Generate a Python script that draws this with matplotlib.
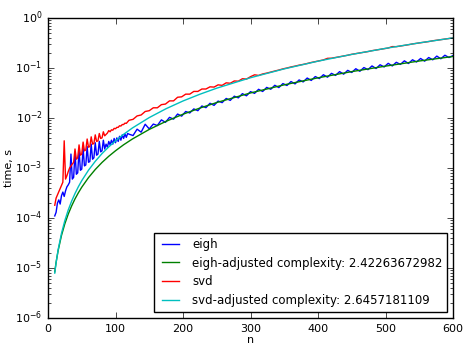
import matplotlib
matplotlib.use('Agg')
import matplotlib.pyplot as plt
import numpy as np

# timings: every 2 up to n=118, then every 6
n_meas = np.r_[np.arange(10, 119, 2), np.arange(120, 601, 6)]

eigh_time = [
    1.1e-4, 1.3e-4, 2.0e-4, 2.3e-4, 1.9e-4, 2.8e-4, 3.3e-4, 2.7e-4, 3.5e-4, 4.2e-4,
    4.6e-4, 5.2e-4, 1.9e-3, 6.0e-4, 6.5e-4, 2.1e-3, 7.5e-4, 8.0e-4, 2.3e-3, 9.0e-4,
    9.5e-4, 2.5e-3, 1.1e-3, 1.15e-3, 2.7e-3, 1.3e-3, 1.35e-3, 3.0e-3, 1.5e-3, 1.6e-3,
    3.2e-3, 1.8e-3, 1.9e-3, 3.4e-3, 2.1e-3, 2.2e-3, 3.6e-3, 2.4e-3, 3.0e-3, 2.6e-3,
    3.4e-3, 2.9e-3, 3.6e-3, 3.0e-3, 3.9e-3, 3.2e-3, 4.0e-3, 3.4e-3, 4.3e-3, 3.6e-3,
    4.6e-3, 3.9e-3, 4.8e-3, 4.1e-3, 4.9e-3,
    4.75e-3, 4.46e-3, 5.98e-3, 5.21e-3, 7.5e-3, 6.05e-3, 7.56e-3, 7.07e-3, 9.18e-3, 8.18e-3,
    1.03e-2, 9.49e-3, 1.20e-2, 1.09e-2, 1.35e-2, 1.26e-2, 1.52e-2, 1.40e-2, 1.74e-2, 1.61e-2,
    1.97e-2, 1.79e-2, 2.18e-2, 2.03e-2, 2.46e-2, 2.25e-2, 2.73e-2, 2.53e-2, 3.07e-2, 2.78e-2,
    3.37e-2, 3.11e-2, 3.75e-2, 3.39e-2, 4.09e-2, 3.76e-2, 4.51e-2, 4.06e-2, 4.88e-2, 4.47e-2,
    5.36e-2, 4.81e-2, 5.77e-2, 5.27e-2, 6.30e-2, 5.64e-2, 6.74e-2, 6.15e-2, 7.33e-2, 6.55e-2,
    7.81e-2, 7.11e-2, 8.46e-2, 7.53e-2, 8.97e-2, 8.14e-2, 9.67e-2, 8.60e-2, 0.102, 9.27e-2,
    0.110, 9.76e-2, 0.116, 0.105, 0.124, 0.110, 0.130, 0.118, 0.139, 0.123,
    0.146, 0.132, 0.155, 0.137, 0.162, 0.146, 0.173, 0.153, 0.180, 0.162,
    0.177,
]

svd_time = [
    1.8e-4, 2.5e-4, 2.9e-4, 3.4e-4, 3.9e-4, 4.5e-4, 5.2e-4, 3.5e-3, 6.0e-4, 7.0e-4,
    8.5e-4, 1.0e-3, 1.1e-3, 1.2e-3, 1.3e-3, 2.4e-3, 1.5e-3, 1.6e-3, 2.9e-3, 1.8e-3,
    1.9e-3, 3.3e-3, 2.2e-3, 2.3e-3, 3.8e-3, 2.6e-3, 2.7e-3, 4.2e-3, 3.0e-3, 3.1e-3,
    4.6e-3, 3.4e-3, 3.5e-3, 4.9e-3, 3.9e-3, 4.0e-3, 5.3e-3, 4.4e-3, 4.7e-3, 5.0e-3,
    5.6e-3, 5.3e-3, 5.8e-3, 5.7e-3, 6.2e-3, 6.1e-3, 6.5e-3, 6.5e-3, 7.0e-3, 6.9e-3,
    7.4e-3, 7.4e-3, 7.9e-3, 7.8e-3, 8.4e-3,
    9.0e-3, 9.4e-3, 1.1e-2, 1.15e-2, 1.35e-2, 1.4e-2, 1.6e-2, 1.6e-2, 1.85e-2, 1.9e-2,
    2.2e-2, 2.2e-2, 2.6e-2, 2.65e-2, 3.0e-2, 3.0e-2, 3.4e-2, 3.4e-2, 3.8e-2, 3.8e-2,
    4.2e-2, 4.15e-2, 4.6e-2, 4.5e-2, 5.05e-2, 4.95e-2, 5.5e-2, 5.45e-2, 6.1e-2, 6.0e-2,
    6.7e-2, 7.3e-2, 7.1e-2, 7.6e-2, 7.9e-2, 8.3e-2, 8.7e-2, 9.1e-2, 9.6e-2, 0.100,
    0.105, 0.109, 0.114, 0.118, 0.123, 0.129, 0.134, 0.139, 0.145, 0.156,
    0.157, 0.162, 0.168, 0.174, 0.180, 0.188, 0.194, 0.200, 0.207, 0.213,
    0.222, 0.229, 0.236, 0.243, 0.251, 0.268, 0.267, 0.275, 0.283, 0.292,
    0.303, 0.311, 0.320, 0.329, 0.338, 0.350, 0.359, 0.368, 0.378, 0.389,
    0.401,
]

# fitted curves, sampled
n_fit = [10, 12, 15, 20, 25, 30, 35, 40, 45, 50, 60, 70, 80, 90, 100, 112, 125,
         150, 175, 200, 225, 250, 300, 350, 400, 450, 500, 550, 600]
eigh_fit = [8.37e-6, 1.30e-5, 2.23e-5, 4.49e-5, 7.70e-5, 1.20e-4, 1.74e-4, 2.41e-4,
            3.20e-4, 4.13e-4, 6.42e-4, 9.33e-4, 1.29e-3, 1.716e-3, 2.21e-3, 2.914e-3,
            3.80e-3, 5.91e-3, 8.59e-3, 1.19e-2, 1.579e-2, 2.04e-2, 3.17e-2, 4.61e-2,
            6.36e-2, 8.47e-2, 0.109, 0.138, 0.170]
svd_fit = [7.90e-6, 1.28e-5, 2.31e-5, 4.94e-5, 8.92e-5, 1.45e-4, 2.174e-4, 3.09e-4,
           4.225e-4, 5.58e-4, 9.04e-4, 1.36e-3, 1.94e-3, 2.644e-3, 3.49e-3, 4.717e-3,
           6.31e-3, 1.02e-2, 1.536e-2, 2.19e-2, 2.987e-2, 3.95e-2, 6.39e-2, 9.61e-2,
           0.137, 0.187, 0.247, 0.318, 0.400]

eigh_exp = '2.42263672982'
svd_exp = '2.6457181109'

plt.style.use('classic')
plt.rcParams['figure.facecolor'] = 'white'
plt.rcParams['savefig.facecolor'] = 'white'
plt.rcParams['mathtext.fontset'] = 'dejavusans'
plt.rcParams['font.family'] = 'DejaVu Sans'

fig = plt.figure(figsize=(4.74, 3.55), dpi=100)
ax = fig.add_axes([48 / 474, 37 / 355, 405 / 474, 300 / 355])

ax.plot(n_meas, eigh_time, 'b', label='eigh')
ax.plot(n_fit, eigh_fit, 'g', label='eigh-adjusted complexity: ' + eigh_exp)
ax.plot(n_meas, svd_time, 'r', label='svd')
ax.plot(n_fit, svd_fit, 'c', label='svd-adjusted complexity: ' + svd_exp)

ax.set_yscale('log')
ax.set_xlim(0, 600)
ax.set_ylim(1e-6, 1)
ax.set_xlabel('n', fontsize=8)
ax.set_ylabel('time, s', fontsize=8)
ax.xaxis.set_label_coords(0.5, -0.058)
ax.yaxis.set_label_coords(-0.085, 0.5)
ax.tick_params(labelsize=8)
ax.legend(loc='lower right', fontsize=8.5)

fig.savefig('out.png', dpi=100)
